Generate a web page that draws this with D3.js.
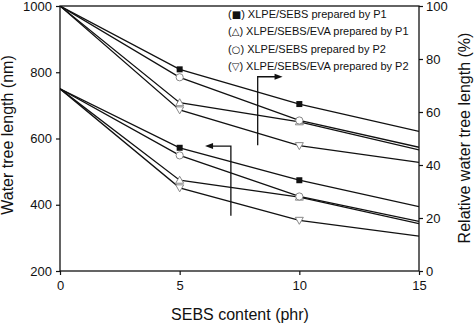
<!DOCTYPE html>
<html><head><meta charset="utf-8">
<script src="https://cdn.jsdelivr.net/npm/d3@7"></script>
<style>body{margin:0;background:#fff}svg{display:block}text{font-family:"Liberation Sans",Arial,"DejaVu Sans",sans-serif;fill:#111}</style>
</head><body><svg id="c" width="474" height="324"></svg>
<script>
const xValues = [0, 5, 10, 15];
const xTicks = [0, 5, 10, 15];
const leftTicks = [200, 400, 600, 800, 1000];
const rightTicks = [0, 20, 40, 60, 80, 100];
const seriesNames = ["XLPE/SEBS prepared by P1", "XLPE/SEBS/EVA prepared by P1", "XLPE/SEBS prepared by P2", "XLPE/SEBS/EVA prepared by P2"];
const seriesSymbols = ["square", "triangle", "circle", "invtriangle"];
const legendOrder = [0, 1, 2, 3];
// water tree length (nm), left axis
const lengthP1SEBS = [750, 572, 474, 394];
const lengthP1EVA = [750, 474, 423, 343];
const lengthP2SEBS = [750, 549, 425, 350];
const lengthP2EVA = [750, 451, 353, 305];
// relative water tree length (%), right axis
const relP1SEBS = [100, 76.1, 63.0, 52.7];
const relP1EVA = [100, 63.5, 56.3, 45.7];
const relP2SEBS = [100, 73.1, 56.8, 46.7];
const relP2EVA = [100, 60.8, 47.3, 41.0];

const svg = d3.select("#c");
const L = 60, R = 419, T = 6, B = 271;
const x = d3.scaleLinear().domain([0, 15]).range([L, R]);
const yL = d3.scaleLinear().domain([200, 1000]).range([B, T]);
const yR = d3.scaleLinear().domain([0, 100]).range([B, T]);

// frame
svg.append("rect").attr("x", L).attr("y", T).attr("width", R - L).attr("height", B - T)
  .attr("fill", "none").attr("stroke", "#111").attr("stroke-width", 1.3);

function styleAxis(g) {
  g.select(".domain").remove();
  g.selectAll("line").attr("stroke", "#111").attr("stroke-width", 1.2);
  g.selectAll("text").style("font-size", "13px").attr("fill", "#111");
}
svg.append("g").attr("transform", `translate(0,${B})`)
  .call(d3.axisBottom(x).tickValues(xTicks).tickSize(4).tickPadding(6).tickFormat(d3.format("d")))
  .call(styleAxis);
svg.append("g").attr("transform", `translate(${L},0)`)
  .call(d3.axisLeft(yL).tickValues(leftTicks).tickSize(4).tickPadding(4).tickFormat(d3.format("d")))
  .call(styleAxis);
svg.append("g").attr("transform", `translate(${R},0)`)
  .call(d3.axisRight(yR).tickValues(rightTicks).tickSize(4).tickPadding(3).tickFormat(d3.format("d")))
  .call(styleAxis);

// titles
svg.append("text").attr("x", 240).attr("y", 320).attr("text-anchor", "middle").style("font-size", "16px").text("SEBS content (phr)");
svg.append("text").attr("transform", "translate(13,135) rotate(-90)").attr("text-anchor", "middle").style("font-size", "16px").text("Water tree length (nm)");
svg.append("text").attr("transform", "translate(470,138) rotate(-90)").attr("text-anchor", "middle").style("font-size", "16px").text("Relative water tree length (%)");

const groups = [
  {scale: yL, data: [lengthP1SEBS, lengthP1EVA, lengthP2SEBS, lengthP2EVA]},
  {scale: yR, data: [relP1SEBS, relP1EVA, relP2SEBS, relP2EVA]}
];
const line = (ys) => d3.line().x((d, i) => x(xValues[i])).y(d => ys(d));

function marker(g, type, cx, cy) {
  if (type === "square") {
    g.append("rect").attr("x", cx - 3).attr("y", cy - 3).attr("width", 6).attr("height", 6).attr("fill", "#111");
  } else if (type === "circle") {
    g.append("circle").attr("cx", cx).attr("cy", cy).attr("r", 3.6).attr("fill", "#fff").attr("stroke", "#888").attr("stroke-width", 1);
  } else {
    const s = type === "triangle" ? -1 : 1;
    g.append("path").attr("d", `M${cx - 4},${cy - s * 3}L${cx + 4},${cy - s * 3}L${cx},${cy + s * 4}Z`)
      .attr("fill", "#fff").attr("stroke", "#888").attr("stroke-width", 1);
  }
}

svg.append("clipPath").attr("id", "pc").append("rect").attr("x", L).attr("y", T).attr("width", R - L).attr("height", B - T);
groups.forEach(grp => {
  grp.data.forEach((arr, si) => {
    svg.append("path").datum(arr).attr("d", line(grp.scale)).attr("fill", "none")
      .attr("stroke", "#111").attr("stroke-width", 1.3).attr("clip-path", "url(#pc)");
  });
  [1, 3, 2, 0].forEach(si => {
    const arr = grp.data[si];
    const mg = svg.append("g");
    [1, 2].forEach(i => marker(mg, seriesSymbols[si], x(xValues[i]), grp.scale(arr[i])));
  });
});

// legend
const legendGlyph = {square: "\u25A0", triangle: "\u25B3", circle: "\u25CB", invtriangle: "\u25BD"};
legendOrder.forEach((si, k) => {
  const t = svg.append("text").attr("x", 228).attr("y", 17.5 + k * 17.6).style("font-size", "11px");
  t.append("tspan").text("(");
  t.append("tspan").style("font-family", "DejaVu Sans").style("font-size", "10px").text(legendGlyph[seriesSymbols[si]]);
  t.append("tspan").text(") " + seriesNames[si]);
});

// arrows
function arrow(xv, y0, y1, xEnd, scale) {
  const px = x(xv), pe = x(xEnd), py0 = scale(y0), py1 = scale(y1);
  const dir = pe > px ? 1 : -1;
  svg.append("path").attr("d", `M${px},${py1}L${px},${py0}L${pe - dir * 6},${py0}`)
    .attr("fill", "none").attr("stroke", "#111").attr("stroke-width", 1.3);
  svg.append("path").attr("d", `M${pe},${py0}L${pe - dir * 8},${py0 - 3}L${pe - dir * 8},${py0 + 3}Z`).attr("fill", "#111");
}
arrow(8.26, 73.3, 47.5, 9.3, yR);
arrow(7.14, 577, 367, 6.06, yL);
</script></body></html>
